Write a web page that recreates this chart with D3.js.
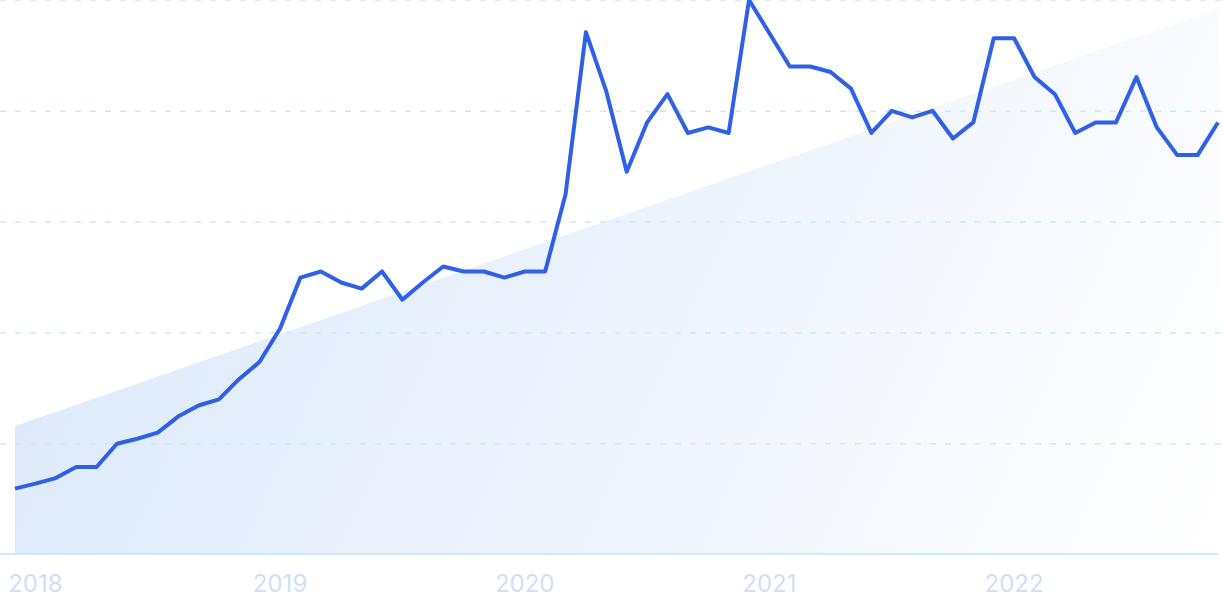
<!DOCTYPE html>
<html>
<head>
<meta charset="utf-8">
<script src="https://cdn.jsdelivr.net/npm/d3@7"></script>
<style>
  html, body { margin: 0; padding: 0; background: #ffffff; }
  svg { display: block; }
</style>
</head>
<body>
<svg id="chart" width="1222" height="610"></svg>
<script>
// ---- data ----
const months = [];
const years = ["2018", "2019", "2020", "2021", "2022"];
years.forEach(y => { for (let m = 1; m <= 12; m++) months.push(y + "-" + String(m).padStart(2, "0")); });

const values = [
  11.8, 12.7, 13.7, 15.7, 15.7, 19.9, 20.8, 21.9, 24.8, 26.8, 27.9, 31.6,
  34.7, 40.7, 49.9, 51.0, 49.0, 47.9, 51.0, 45.9, 49.0, 51.9, 51.0, 51.0,
  49.9, 51.0, 51.0, 64.9, 94.2, 83.5, 69.0, 77.9, 83.0, 76.0, 77.0, 76.0,
  100, 94.0, 88.0, 88.0, 87.0, 84.0, 76.0, 80.0, 78.8, 80.0, 75.0, 77.9,
  93.1, 93.1, 86.1, 83.0, 76.0, 77.9, 77.9, 86.1, 77.0, 72.0, 72.0, 77.9
];
const trendValues = [23.1, 98.4];           // start / end of the trend band
const gridValues = [0, 20, 40, 60, 80, 100];
const tickLabels = years;

// ---- layout ----
const svg = d3.select("#chart");
const W = 1222;
const x = d3.scalePoint().domain(months).range([15, 1218]);
const y = d3.scaleLinear().domain([0, 100]).range([554, 0]);

const defs = svg.append("defs");
const grad = defs.append("linearGradient")
  .attr("id", "bandGrad")
  .attr("gradientUnits", "userSpaceOnUse")
  .attr("x1", x(months[0])).attr("y1", 0)
  .attr("x2", x(months[months.length - 1])).attr("y2", y(0));
grad.append("stop").attr("offset", 0).attr("stop-color", "#d9e7fb");
grad.append("stop").attr("offset", 1).attr("stop-color", "#ffffff");

// trend band area
const trendPts = [
  { m: months[0], v: trendValues[0] },
  { m: months[months.length - 1], v: trendValues[1] }
];
svg.append("path")
  .datum(trendPts)
  .attr("fill", "url(#bandGrad)")
  .attr("d", d3.area().x(d => x(d.m)).y0(y(0)).y1(d => y(d.v)));

// gridlines
svg.append("g").selectAll("line")
  .data(gridValues.filter(v => v > 0))
  .join("line")
  .attr("x1", 0).attr("x2", W)
  .attr("y1", d => y(d) + 0.5).attr("y2", d => y(d) + 0.5)
  .attr("stroke", (d) => d === 100 ? "#e4e8fa" : "#cfe9f8")
  .attr("stroke-width", 1.5)
  .attr("stroke-dasharray", "6,9");

// baseline
svg.append("line")
  .attr("x1", 0).attr("x2", x(months[months.length - 1]))
  .attr("y1", y(0)).attr("y2", y(0))
  .attr("stroke", "#bfe3fb")
  .attr("stroke-width", 1.5);

// line
svg.append("path")
  .datum(values)
  .attr("fill", "none")
  .attr("stroke", "#2f60e8")
  .attr("stroke-width", 4)
  .attr("stroke-linejoin", "round")
  .attr("stroke-linecap", "butt")
  .attr("d", d3.line().x((d, i) => x(months[i])).y(d => y(d)));

// x labels (centred one month after each year start)
svg.append("g").selectAll("text")
  .data(tickLabels)
  .join("text")
  .attr("x", d => x(d + "-02"))
  .attr("y", 592)
  .attr("text-anchor", "middle")
  .attr("font-family", "Inter, 'Noto Sans', sans-serif")
  .attr("font-size", 24)
  .attr("fill", "#d2ddf6")
  .text(d => d);
</script>
</body>
</html>
